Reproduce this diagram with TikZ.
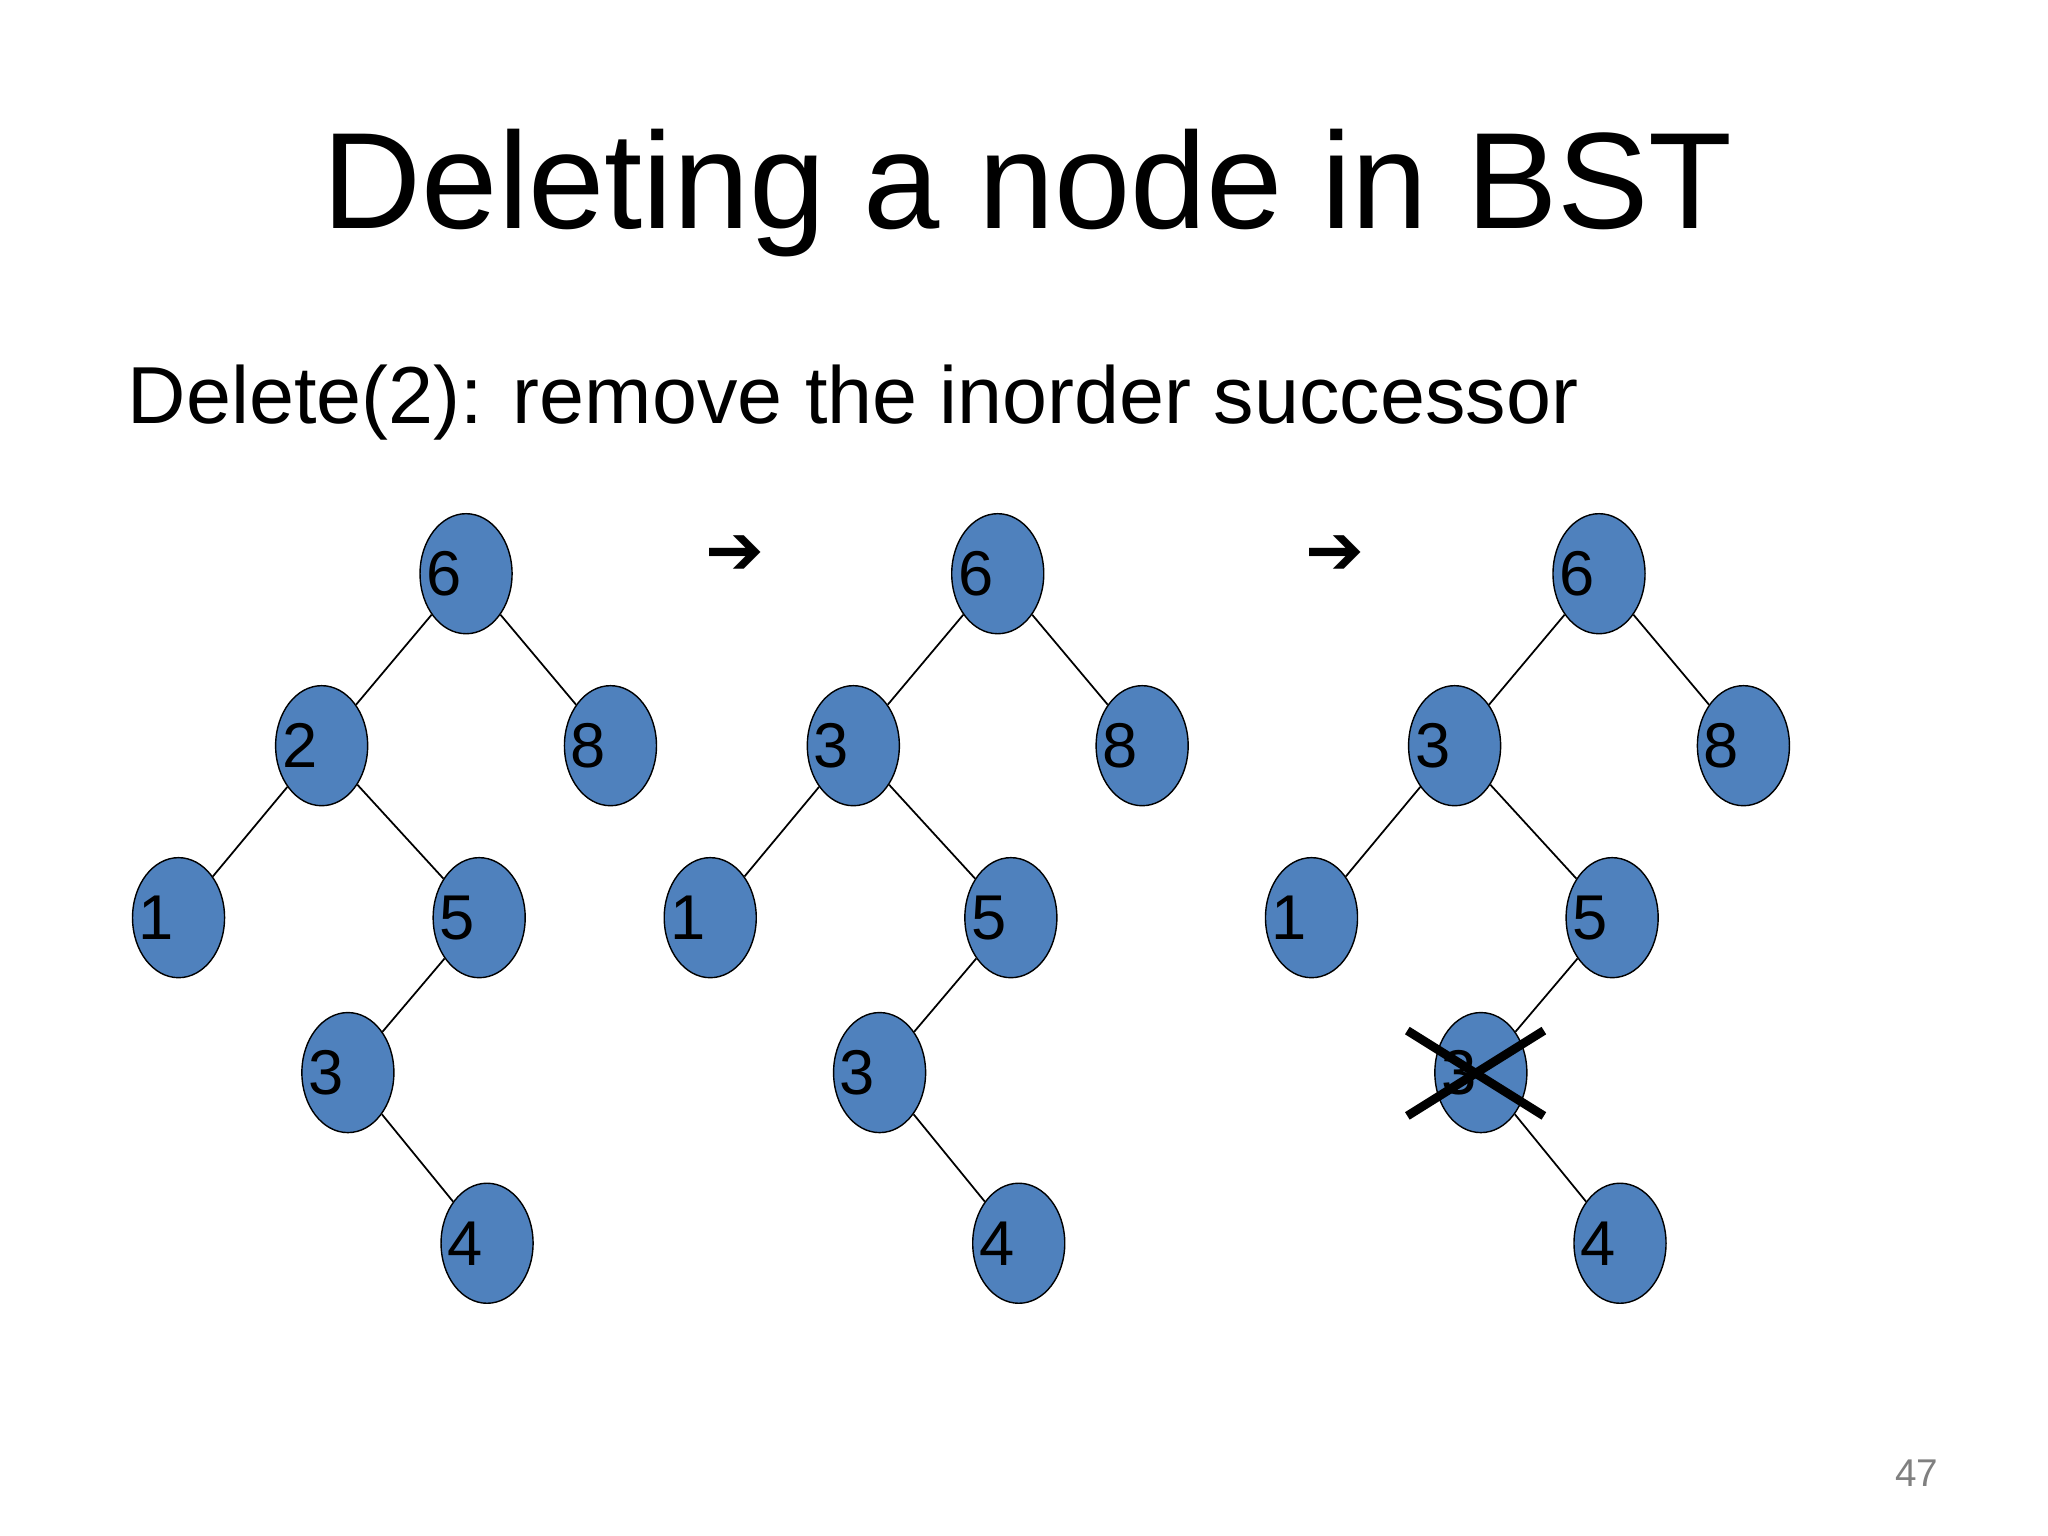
\documentclass[tikz,border=0pt]{standalone}
\usepackage{fontspec}
\setmainfont{Liberation Sans}
\newfontfamily\dejavu{DejaVu Sans}
\usetikzlibrary{shapes.geometric}
\definecolor{nodeblue}{HTML}{4F81BD}
\tikzset{
  bst/.style={ellipse,draw=black,fill=nodeblue,minimum width=0.92cm,minimum height=1.2cm,inner sep=0pt},
  num/.style={font=\fontsize{18}{18}\selectfont,xshift=-0.22cm},
  edge/.style={draw=black,line width=0.5pt}
}
\newcommand{\bstnode}[3]{\node[bst] (#1) at (#2) {}; \node[num] at (#1.center) {#3};}
\begin{document}
\begin{tikzpicture}[x=0.01313cm,y=-0.01313cm]
  \useasboundingbox (0,0) rectangle (1560,1170);
  % titulo
  \node (title) at (783,147) {\fontsize{39}{39}\selectfont Deleting a node in BST};
  \node[anchor=west] (sub) at (88,307) {\fontsize{23}{23}\selectfont Delete(2): remove the inorder successor};
  % arvores
  \foreach \t/\dx/\r in {a/0/2,b/405/3,c/863/3}{
    \bstnode{\t6}{355+\dx,437}{6}
    \bstnode{\t2}{245+\dx,568}{\r}
    \bstnode{\t8}{465+\dx,568}{8}
    \bstnode{\t1}{136+\dx,699}{1}
    \bstnode{\t5}{365+\dx,699}{5}
    \bstnode{\t3}{265+\dx,817}{3}
    \bstnode{\t4}{371+\dx,947}{4}
    \draw[edge] (\t6) -- (\t2);
    \draw[edge] (\t6) -- (\t8);
    \draw[edge] (\t2) -- (\t1);
    \draw[edge] (\t2) -- (\t5);
    \draw[edge] (\t5) -- (\t3);
    \draw[edge] (\t3) -- (\t4);
  }
  % setas
  \node (arr1) at (560,423) {\dejavu\fontsize{20}{20}\selectfont ➔};
  \node (arr2) at (1017,423) {\dejavu\fontsize{20}{20}\selectfont ➔};
  % cruz
  \draw[line width=2.5pt] (1072,785) -- (1176,850);
  \draw[line width=2.5pt] (1072,850) -- (1176,785);
  % pagina
  \node[text=gray] (page) at (1460,1122) {\fontsize{11}{11}\selectfont 47};
\end{tikzpicture}
\end{document}
